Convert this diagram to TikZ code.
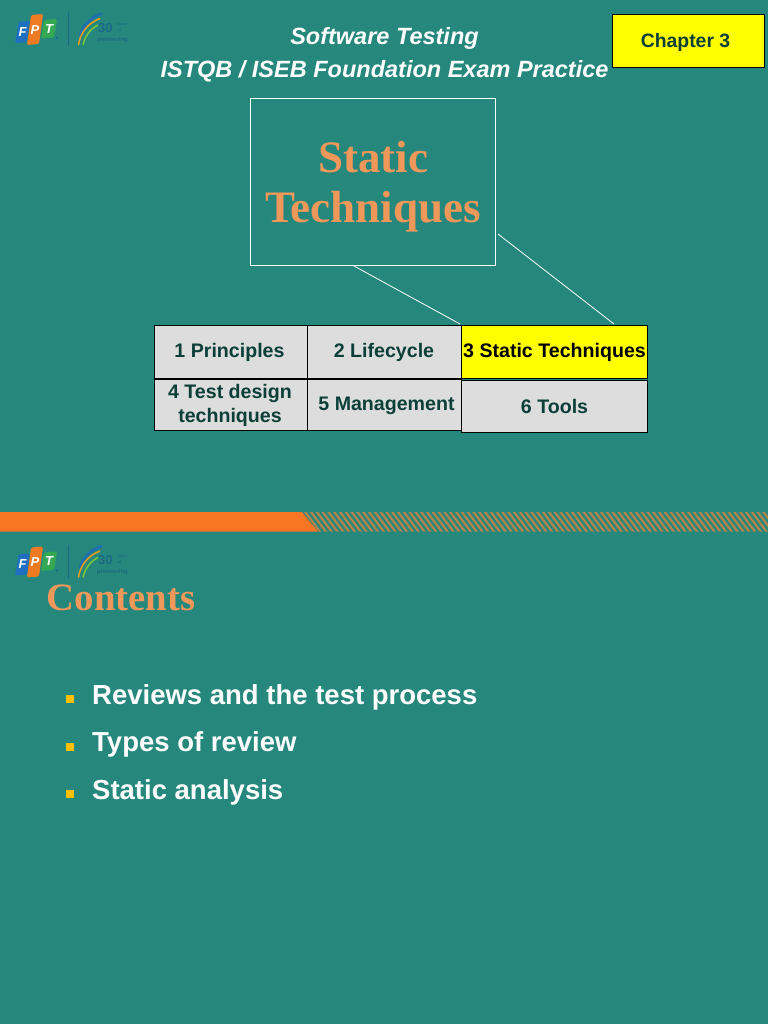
\documentclass[tikz,border=0pt]{standalone}
\usepackage{fontspec}
\setmainfont{Liberation Sans}
\newfontfamily\serifx{Liberation Serif}
\definecolor{bgteal}{HTML}{26887C}
\definecolor{titleorange}{HTML}{F0975A}
\definecolor{barorange}{HTML}{F97722}
\definecolor{darktext}{HTML}{0B3F38}
\definecolor{cellgrey}{HTML}{DDDDDD}
\definecolor{chapyellow}{HTML}{FFFF00}
\definecolor{bulletgold}{HTML}{FFC000}
\definecolor{hatchc}{HTML}{B9824A}
\definecolor{logoblue}{HTML}{1F6FC0}
\definecolor{logogreen}{HTML}{35A853}
\definecolor{logoorange}{HTML}{EE7B22}
\definecolor{logonavy}{HTML}{1B6A86}
\tikzset{
  x=1pt,y=-1pt,
  cell/.style={draw=black,line width=1.4pt,fill=cellgrey,inner sep=0pt,minimum width=#1,anchor=north west},
  cell/.default=153.5pt,
  celltext/.style={text=darktext,font=\bfseries\fontsize{19.6}{24}\selectfont,align=center,inner sep=0pt},
  heading/.style={text=white,font=\bfseries\itshape\fontsize{23.5}{28}\selectfont,inner sep=0pt},
  bigtitle/.style={text=titleorange,font=\serifx\bfseries\fontsize{45}{55}\selectfont,inner sep=0pt,align=center},
  bulletitem/.style={text=white,font=\bfseries\fontsize{27.5}{32}\selectfont,inner sep=0pt,anchor=west},
  bulletmark/.style={fill=bulletgold,draw=none,minimum size=8pt,inner sep=0pt},
  thinwhite/.style={draw=white,line width=0.8pt},
}
\newcommand{\fptlogo}[2]{%
 \begin{scope}[shift={(#1,#2)}]
  \fill[logoblue,rounded corners=1.5pt] (19,21.5)--(30,21)--(27,42)--(15,43)--cycle;
  \fill[logoorange,rounded corners=1.5pt] (31,15)--(43,14)--(39,44)--(27,45)--cycle;
  \fill[logogreen,rounded corners=1.5pt] (44,20)--(57,19)--(54,37.5)--(41,38.5)--cycle;
  \node[text=white,font=\bfseries\itshape\fontsize{13}{13}\selectfont,inner sep=0pt] (lf) at (22.5,32) {F};
  \node[text=white,font=\bfseries\itshape\fontsize{13}{13}\selectfont,inner sep=0pt] (lp) at (35,30) {P};
  \node[text=white,font=\bfseries\itshape\fontsize{13}{13}\selectfont,inner sep=0pt] (lt) at (49,29) {T};
  \fill[logonavy] (57,38) circle (1.4);
  \draw[logonavy,line width=1pt] (68.5,12)--(68.5,46);
  \draw[logoblue!80!logonavy,line width=2.6pt] (80,36) .. controls (82,26) and (91,17) .. (102,13.5);
  \draw[logoorange!75!yellow,line width=1.5pt] (78.5,45) .. controls (80,33) and (88,23) .. (100,18.5);
  \draw[logogreen!65!yellow,line width=1.5pt] (83,45) .. controls (85,36) and (90,29) .. (98,25);
  \node[text=logonavy,font=\bfseries\fontsize{13}{13}\selectfont,inner sep=0pt,anchor=west] (l30) at (98,28) {30};
  \node[text=logonavy,font=\bfseries\fontsize{3.6}{6}\selectfont,inner sep=0pt,align=left,anchor=west] (lyr) at (117.5,27.5) {years\\of};
  \node[text=logonavy,font=\bfseries\fontsize{6}{6}\selectfont,inner sep=0pt,anchor=west] (lpi) at (97,39.5) {pioneering};
 \end{scope}}
\begin{document}
\begin{tikzpicture}
\useasboundingbox (0,0) rectangle (768,1024);
\fill[bgteal] (0,0) rectangle (768,1024);

% logos
\fptlogo{0}{0}
\fptlogo{0}{532.5}

% header
\node[heading] (h1) at (384.5,38) {Software Testing};
\node[heading] (h2) at (384.5,71) {ISTQB / ISEB Foundation Exam Practice};
\node[draw=black,line width=1pt,fill=chapyellow,inner sep=0pt,
  minimum width=152pt,minimum height=53pt] (chap) at (688.5,41.5) {};
\node[text=darktext,font=\bfseries\fontsize{19.4}{24}\selectfont,inner sep=0pt] (chapt) at (685.5,42) {Chapter 3};

% title box
\node[thinwhite,minimum width=245.5pt,minimum height=167.5pt,inner sep=0pt] (tbox) at (373,182) {};
\node[bigtitle] (t1) at (373,157) {Static};
\node[bigtitle] (t2) at (373,212) {Techniques};

% grid
\node[cell,minimum height=53pt] (c1) at (153.5,324.5) {};
\node[cell,minimum height=53pt] (c2) at (307,324.5) {};
\node[cell=185.5pt,minimum height=53pt,fill=chapyellow,line width=1pt] (c3) at (461,324.5) {};
\node[cell,minimum height=51.5pt] (c4) at (153.5,378.5) {};
\node[cell,minimum height=51.5pt] (c5) at (307,378.5) {};
\node[cell=185.5pt,minimum height=52pt,line width=1pt] (c6) at (461,380) {};
\node[celltext] (c1t) at (229.5,352) {1 Principles};
\node[celltext] (c2t) at (384,352) {2 Lifecycle};
\node[celltext,text=black] (c3t) at (554.5,352) {3 Static Techniques};
\node[celltext] (c4t) at (230,405) {4 Test design\\techniques};
\node[celltext] (c5t) at (386.5,406) {5 Management};
\node[celltext] (c6t) at (554.5,406.5) {6 Tools};

% connectors
\coordinate (la) at (354,266);
\coordinate (lb) at (460,324);
\coordinate (ra) at (498,234);
\coordinate (rb) at (614,324);
\draw[thinwhite] (la)--(lb);
\draw[thinwhite] (ra)--(rb);

% divider bar
\fill[barorange] (0,512)--(302,512)--(318,531.5)--(0,531.5)--cycle;
\begin{scope}
 \clip (302,512)--(768,512)--(768,531.5)--(318,531.5)--cycle;
 \foreach \i in {0,...,82} {
   \draw[hatchc,line width=2.1pt] ({298+\i*5.8},510)--({316+\i*5.8},534);
 }
\end{scope}

% contents
\node[text=titleorange,font=\serifx\bfseries\fontsize{38.8}{46}\selectfont,inner sep=0pt,anchor=west] (ct) at (46.5,598) {Contents};
\node[bulletmark] (b1) at (70,699) {};
\node[bulletmark] (b2) at (70,746.5) {};
\node[bulletmark] (b3) at (70,794) {};
\node[bulletitem] (i1) at (92,697) {Reviews and the test process};
\node[bulletitem] (i2) at (92,744.5) {Types of review};
\node[bulletitem] (i3) at (92,792) {Static analysis};
\end{tikzpicture}
\end{document}
